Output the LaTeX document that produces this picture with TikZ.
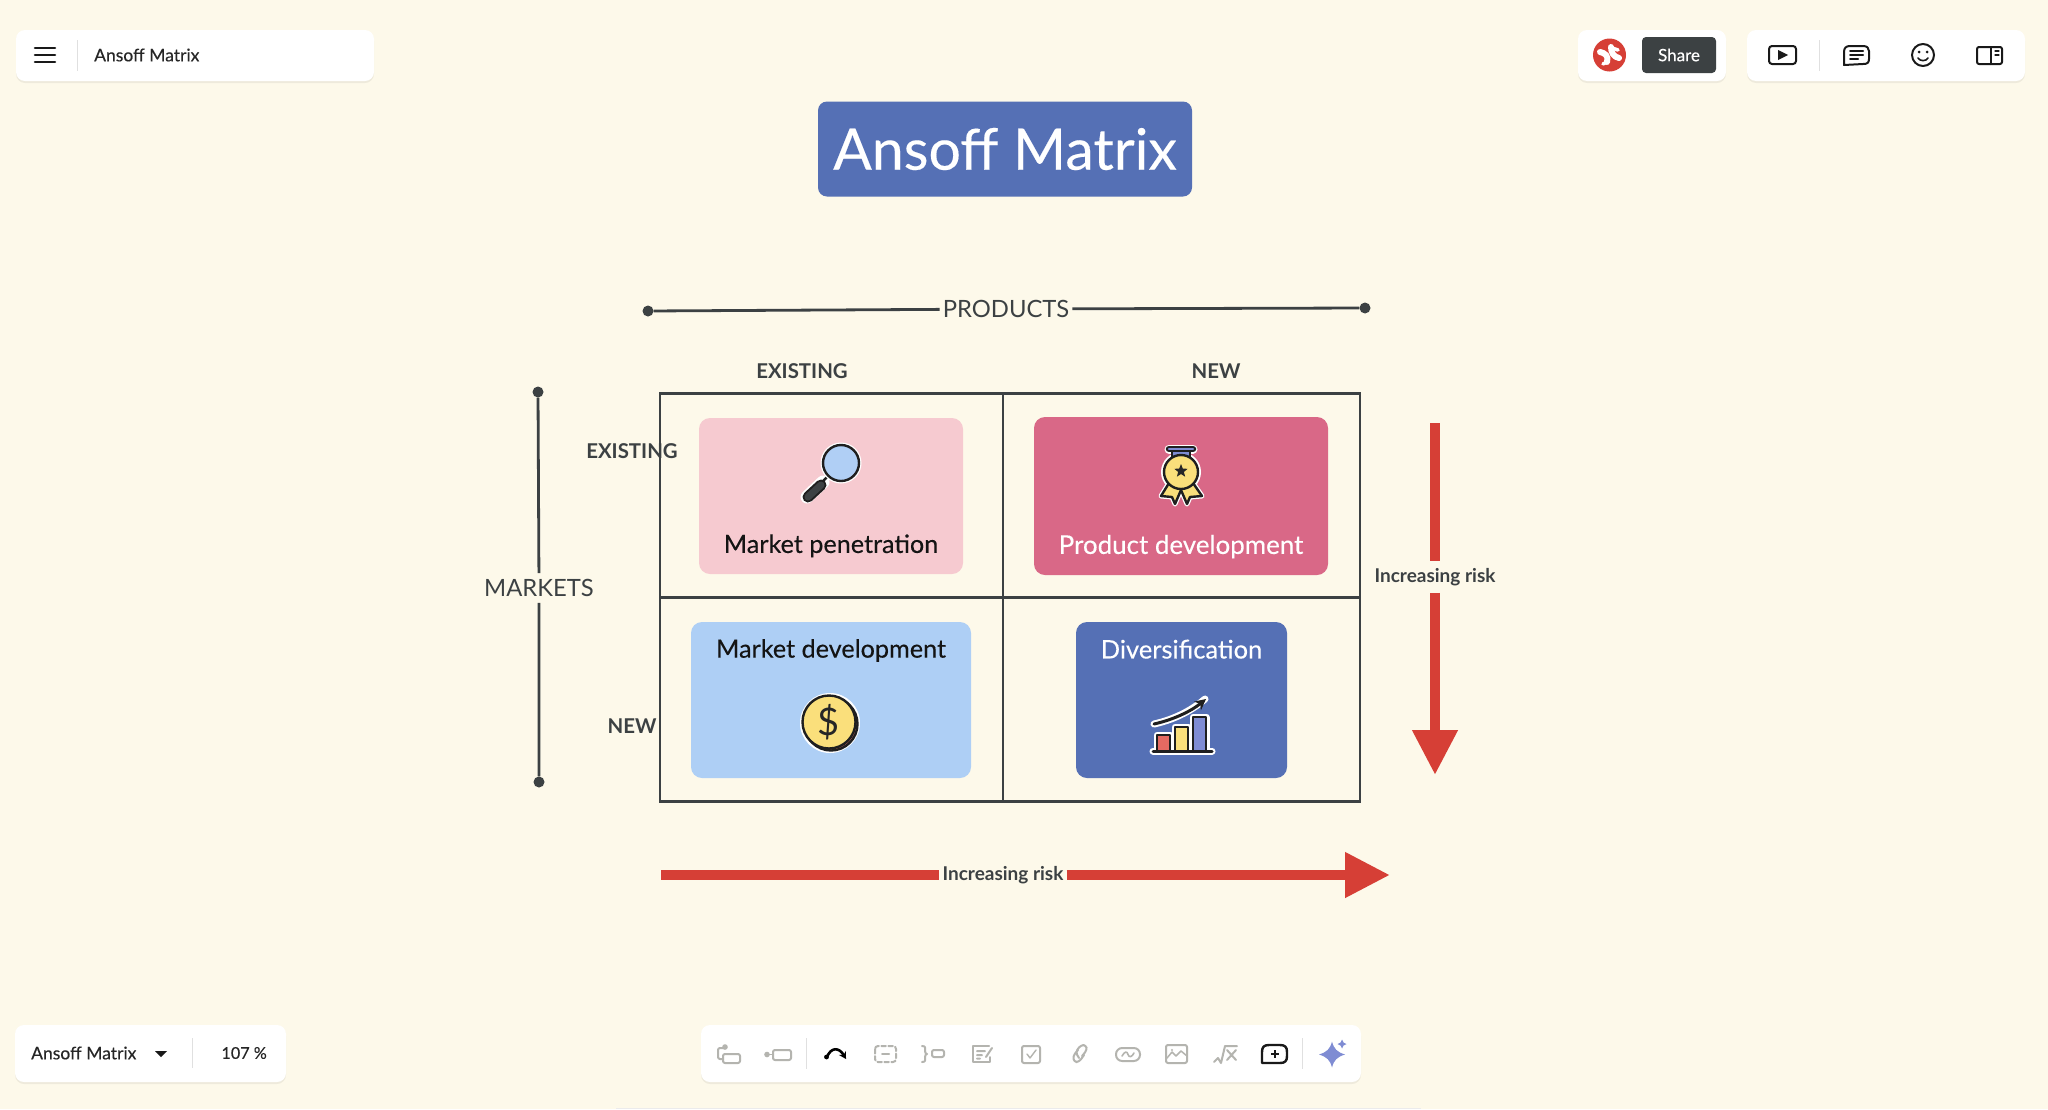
\documentclass[tikz,border=0pt]{standalone}
\usepackage{fontspec}
\setmainfont{Lato}
\newfontfamily\medfont[FakeBold=0.25]{Lato}
\usetikzlibrary{arrows.meta,shapes.geometric,shadows}
\newcommand{\pxf}[1]{\fontsize{#1}{#1}\selectfont}
\definecolor{bgc}{HTML}{FDF9EA}
\definecolor{ink}{HTML}{3C4143}
\definecolor{titleblue}{HTML}{5570B5}
\definecolor{riskred}{HTML}{D63F36}
\definecolor{pinkc}{HTML}{F6CAD0}
\definecolor{rosec}{HTML}{D96887}
\definecolor{skyc}{HTML}{AECFF5}
\definecolor{goldc}{HTML}{FADF7B}
\definecolor{periw}{HTML}{7F8CD3}
\definecolor{lens}{HTML}{B0CFF5}
\definecolor{greyi}{HTML}{B4B4AF}
\definecolor{barred}{HTML}{E46A62}
\tikzset{
  panel/.style={fill=white,rounded corners=9pt,draw=none,drop shadow={shadow xshift=0pt,shadow yshift=-2pt,opacity=.06,fill=black}},
  card/.style={rounded corners=11pt,draw=none},
  dot/.style={circle,fill=ink,draw=none,inner sep=0pt,minimum size=11pt},
  axis/.style={draw=ink,line width=2.8pt},
  riskline/.style={draw=riskred,line width=10.5pt},
  riskhead/.style={-{Triangle[length=45pt,width=43pt,fill=riskred]}},
  axislabel/.style={text=ink,inner sep=3pt,font=\pxf{23.8}},
  risklabel/.style={text=ink,inner sep=3pt,font=\pxf{19}\bfseries},
  headlabel/.style={text=ink,inner sep=0pt,font=\pxf{20.4}\bfseries},
  cardtext/.style={inner sep=0pt,font=\medfont\pxf{25.2}},
  ui/.style={inner sep=0pt,text=black!85,font=\medfont\pxf{17.5}},
  uil/.style={draw=black!90,line width=2pt,line cap=round,line join=round},
  tool/.style={draw=greyi,line width=2pt,line cap=round,line join=round},
  divider/.style={draw=black!12,line width=1pt},
  halo/.style={draw=white,line cap=round,line join=round},
  ic/.style={draw=black!88,line width=2.4pt,line cap=round,line join=round},
}
\begin{document}
\begin{tikzpicture}[x=1pt,y=-1pt]
\fill[bgc] (0,0) rectangle (2048,1109);
\useasboundingbox (0,0) rectangle (2048,1109);
\draw[black!8,line width=1pt] (616,1108.5) -- (1421,1108.5);

% title
\node[fill=titleblue,rounded corners=9pt,minimum width=374pt,minimum height=95pt,inner sep=0pt,text=white,font=\medfont\pxf{57.2}] (title) at (1005,149) {Ansoff Matrix};

% matrix grid
\node[draw=ink,line width=2.8pt,minimum width=700pt,minimum height=408pt,inner sep=0pt] (grid) at (1010,597.5) {};
\coordinate (gt) at (1003,393.5);
\coordinate (gb) at (1003,801.5);
\coordinate (gl) at (660,597.5);
\coordinate (gr) at (1360,597.5);
\draw[ink,line width=2.8pt] (gt) -- (gb) (gl) -- (gr);

% cards
\node[card,fill=pinkc,minimum width=264pt,minimum height=156pt] (mpcard) at (831,496) {};
\node[card,fill=rosec,minimum width=294pt,minimum height=158pt] (pdcard) at (1181,496) {};
\node[card,fill=skyc,minimum width=280pt,minimum height=156pt] (mdcard) at (831,700) {};
\node[card,fill=titleblue,minimum width=211pt,minimum height=156pt] (divcard) at (1181.5,700) {};
\node[cardtext,text=black!92] (mp) at (831,545.8) {Market penetration};
\node[cardtext,text=white,font=\medfont\pxf{25.9}] (pd) at (1181,546.6) {Product development};
\node[cardtext,text=black!92] (md) at (831,650.5) {Market development};
\node[cardtext,text=white,font=\medfont\pxf{25.5}] (dv) at (1181.5,649.2) {Diversification};

% magnifier
\draw[halo,line width=13pt] (807,497) -- (823,482);
\draw[black!88,line width=11pt,line cap=round] (808,497) -- (821,485);
\draw[ink,line width=7pt,line cap=round] (808,497) -- (821,485);
\draw[black!88,line width=2.5pt] (823,481) -- (829,475);
\fill[white] (841,463) circle[radius=20.5pt];
\filldraw[fill=lens,draw=black!88,line width=2.4pt] (841,463) circle[radius=18pt];

% medal
\draw[halo,line width=9pt] (1169,449) -- (1193,449);
\fill[white] (1181,472) circle[radius=20pt];
\draw[halo,line width=5pt] (1169,483) -- (1161,496) -- (1172,497) -- (1175,504) -- (1181,490) -- (1187,504) -- (1190,497) -- (1202,496) -- (1193,483);
\filldraw[ic,fill=goldc] (1169,483) -- (1161,496) -- (1172,497) -- (1175,504) -- (1181,490) -- (1187,504) -- (1190,497) -- (1202,496) -- (1193,483) -- cycle;
\filldraw[ic,fill=periw] (1172,449) rectangle (1190,460);
\draw[black!88,line width=6.5pt,line cap=round] (1169,449) -- (1193,449);
\draw[periw,line width=2.5pt,line cap=round] (1169,449) -- (1193,449);
\filldraw[ic,fill=goldc] (1181,472) circle[radius=17pt];
\node[star,star points=5,star point ratio=2.3,fill=black!85,inner sep=0pt,minimum size=14pt] (medalstar) at (1181,471) {};

% coin
\fill[white] (830,723) circle[radius=30pt];
\filldraw[ic,fill=barred] (831,724) circle[radius=26.5pt];
\filldraw[ic,fill=goldc] (829,722) circle[radius=26.5pt];
\node[inner sep=0pt,text=black!85,font=\pxf{38}] (dollar) at (829,722) {\$};

% bar chart
\draw[halo,line width=7pt] (1153,751) -- (1212,751);
\foreach \xa/\xb/\yt/\c in {1157/1170/735/barred,1175/1188/727/goldc,1193/1206/717/periw}{
  \draw[halo,line width=7pt] (\xa,751) -- (\xa,\yt) -- (\xb,\yt) -- (\xb,751);
  \filldraw[ic,fill=\c] (\xa,751) -- (\xa,\yt) -- (\xb,\yt) -- (\xb,751) -- cycle;
}
\draw[black!88,line width=3pt,line cap=round] (1153,751) -- (1212,751);
\draw[halo,line width=7pt] (1154,724) .. controls (1172,720) and (1190,712) .. (1205,699);
\draw[black!88,line width=3pt,line cap=round,-{Stealth[length=11pt,width=11pt]}] (1154,724) .. controls (1172,720) and (1190,712) .. (1206,699);

% products axis
\node[dot] (p1) at (648,311) {};
\node[dot] (p2) at (1365,308) {};
\node[axislabel] (products) at (1006,309) {PRODUCTS};
\draw[axis] (p1) -- (products) -- (p2);
% markets axis
\node[dot] (m1) at (538,392) {};
\node[dot] (m2) at (539,782) {};
\node[axislabel,inner sep=6pt] (markets) at (539,588) {MARKETS};
\draw[axis] (m1) -- (markets) -- (m2);

% headers
\node[headlabel] (h1) at (802,371) {EXISTING};
\node[headlabel] (h2) at (1216,371) {NEW};
\node[headlabel] (h3) at (632,451) {EXISTING};
\node[headlabel] (h4) at (632,726) {NEW};

% risk arrows
\coordinate (ra) at (661,875);
\coordinate (rb) at (1390,875);
\node[risklabel] (rh) at (1003,875) {Increasing risk};
\draw[riskline] (ra) -- (rh);
\draw[riskline,riskhead] (rh) -- (rb);
\coordinate (va) at (1435,423);
\coordinate (vb) at (1435,775);
\node[risklabel,inner sep=7pt] (rv) at (1435,577) {Increasing risk};
\draw[riskline] (va) -- (rv);
\draw[riskline,riskhead] (rv) -- (vb);

% top-left panel
\fill[panel] (16,30) rectangle (374,81);
\draw[uil,line width=2.6pt] (35,48) -- (55,48) (35,55) -- (55,55) (35,62) -- (55,62);
\draw[divider] (77,40) -- (77,71);
\node[ui,anchor=west] (doc) at (94,55) {Ansoff Matrix};

% top-right panels
\fill[panel] (1578,30) rectangle (1726,81);
\fill[panel] (1747,30) rectangle (2025,81);
\fill[riskred] (1609.5,55) circle[radius=16.5pt];
\draw[white,line width=6pt,line cap=round,line join=round] (1600,52) .. controls (1605,53) and (1609,56) .. (1607,62);
\draw[white,line width=6pt,line cap=round,line join=round] (1611,47) .. controls (1611,53) and (1614,57) .. (1619,58);
\draw[white,line width=3.5pt,line cap=round] (1612,48) -- (1618,50);
\draw[white,line width=3.5pt,line cap=round] (1607,62) -- (1603,64);
\node[fill=ink,rounded corners=4pt,minimum width=74pt,minimum height=36pt,inner sep=0pt,text=white,font=\medfont\pxf{17}] (share) at (1679,55) {Share};
\draw[uil,rounded corners=3pt] (1769,46) rectangle (1796,64);
\fill[black!90] (1778,50) -- (1788,55) -- (1778,60) -- cycle;
\draw[divider] (1819,40) -- (1819,71);
\draw[uil] (1850,46) -- (1863,46) .. controls (1867,46) and (1869,48) .. (1869,51) -- (1869,59) .. controls (1869,63) and (1867,64) .. (1863,64) -- (1844,65) -- (1844,52) .. controls (1844,48) and (1846,46) .. (1850,46) -- cycle;
\draw[uil] (1850,51) -- (1863,51) (1850,55) -- (1863,55) (1850,59) -- (1858,59);
\draw[uil] (1923,55) circle[radius=11pt];
\fill[black!90] (1919,52) circle[radius=1.5pt] (1927,52) circle[radius=1.5pt];
\draw[uil,line width=1.6pt] (1918,58) .. controls (1920,61.5) and (1926,61.5) .. (1928,58);
\draw[uil,rounded corners=2pt] (1977,47) rectangle (2002,64);
\draw[uil] (1991,47) -- (1991,64);
\draw[uil,line width=1.2pt] (1995,51) -- (1999,51) (1995,55) -- (1999,55);

% bottom-left panel
\fill[panel] (15,1025) rectangle (286,1082);
\node[ui,anchor=west] (sheet) at (31,1053) {Ansoff Matrix};
\fill[black!90] (155,1051) -- (167,1051) -- (161,1057) -- cycle;
\draw[divider] (192,1038) -- (192,1068);
\node[ui,anchor=east,font=\medfont\pxf{16.2}] (zoomv) at (267,1053) {107 \%};

% toolbar
\fill[panel] (701,1025) rectangle (1361,1082);
\draw[divider] (806,1038) -- (806,1069);
\draw[divider] (1302,1038) -- (1302,1069);
% 1
\draw[tool,rounded corners=2pt] (723,1054) rectangle (740,1063);
\draw[tool,rounded corners=2pt] (725,1048) -- (718,1048) -- (718,1059) -- (723,1059);
\fill[greyi] (725,1047) circle[radius=2.8pt];
% 2
\draw[tool,rounded corners=2pt] (773,1050) rectangle (791,1060);
\fill[greyi] (767,1054.5) circle[radius=2.8pt];
\draw[tool,line width=1.4pt] (769,1054.5) -- (773,1054.5);
% 3
\draw[black,line width=2.6pt,line cap=round,-{Stealth[length=7pt,width=8pt]}] (827,1057) .. controls (831,1047) and (839,1047) .. (846,1059);
\fill[black] (826.5,1057) circle[radius=2.4pt];
% 4
\draw[tool,dash pattern=on 4.5pt off 2.5pt,rounded corners=3pt] (875,1046) rectangle (896,1062);
\draw[tool] (882,1054) -- (889,1054);
% 5
\draw[tool] (922,1046) .. controls (926,1046) and (925,1048) .. (925,1051) .. controls (925,1053) and (926,1054) .. (927,1054) .. controls (926,1054) and (925,1055) .. (925,1057) .. controls (925,1060) and (926,1062) .. (922,1062);
\draw[tool,rounded corners=2pt] (932,1050) rectangle (944,1057);
% 6
\draw[tool] (989,1046) -- (973,1046) -- (973,1062) -- (990,1062) -- (990,1057);
\draw[tool] (977,1051) -- (985,1051) (977,1055) -- (982,1055) (977,1058.5) -- (980,1058.5) (986,1057) -- (992,1048);
% 7
\draw[tool,rounded corners=2pt] (1022,1046) rectangle (1040,1063);
\draw[tool,line width=1.4pt] (1027,1054) -- (1030,1058) -- (1036,1050);
% 8
\draw[tool,rounded corners=3pt] (1078,1050) -- (1073,1056) -- (1074,1062) -- (1079,1062) -- (1084,1055);
\draw[tool,rounded corners=3pt] (1079,1058) -- (1075.5,1052) -- (1081,1045) -- (1086,1045) -- (1087,1050) -- (1082,1056);
% 9
\draw[tool,rounded corners=6.2pt] (1116,1048) rectangle (1140,1061);
\draw[tool,line width=1.6pt] (1122,1056) .. controls (1125,1051) and (1127,1051) .. (1128,1054.5) .. controls (1129,1058) and (1132,1057) .. (1134,1053);
% 10
\draw[tool,rounded corners=2pt] (1166,1045) rectangle (1187,1063);
\draw[tool,line width=1.5pt] (1167,1058) -- (1172,1052) -- (1176,1056) -- (1181,1051) -- (1187,1056);
\fill[greyi] (1172,1050) circle[radius=1.2pt];
% 11
\draw[tool] (1214,1062) -- (1218,1058) -- (1221,1063) -- (1225,1046) -- (1237,1046);
\draw[tool] (1227,1050) -- (1236,1060) (1236,1050) -- (1227,1060);
% 12
\draw[black!90,line width=2.4pt,line join=round] (1262,1063) -- (1262,1052) .. controls (1262,1047) and (1264,1045) .. (1269,1045) -- (1280,1045) .. controls (1285,1045) and (1287,1047) .. (1287,1052) -- (1287,1056) .. controls (1287,1061) and (1285,1063) .. (1280,1063) -- cycle;
\draw[black!90,line width=1.8pt] (1275,1050) -- (1275,1058) (1271,1054) -- (1279,1054);
% 13
\fill[periw] (1332,1041.5) .. controls (1334,1049) and (1337,1052) .. (1345,1054.5) .. controls (1337,1057) and (1334,1060) .. (1332,1067.5) .. controls (1330,1060) and (1327,1057) .. (1319,1054.5) .. controls (1327,1052) and (1330,1049) .. cycle;
\fill[periw] (1342,1039.5) .. controls (1342.5,1042) and (1344,1043.5) .. (1346.5,1044) .. controls (1344,1044.5) and (1342.5,1046) .. (1342,1048.5) .. controls (1341.5,1046) and (1340,1044.5) .. (1337.5,1044) .. controls (1340,1043.5) and (1341.5,1042) .. cycle;
\end{tikzpicture}
\end{document}
